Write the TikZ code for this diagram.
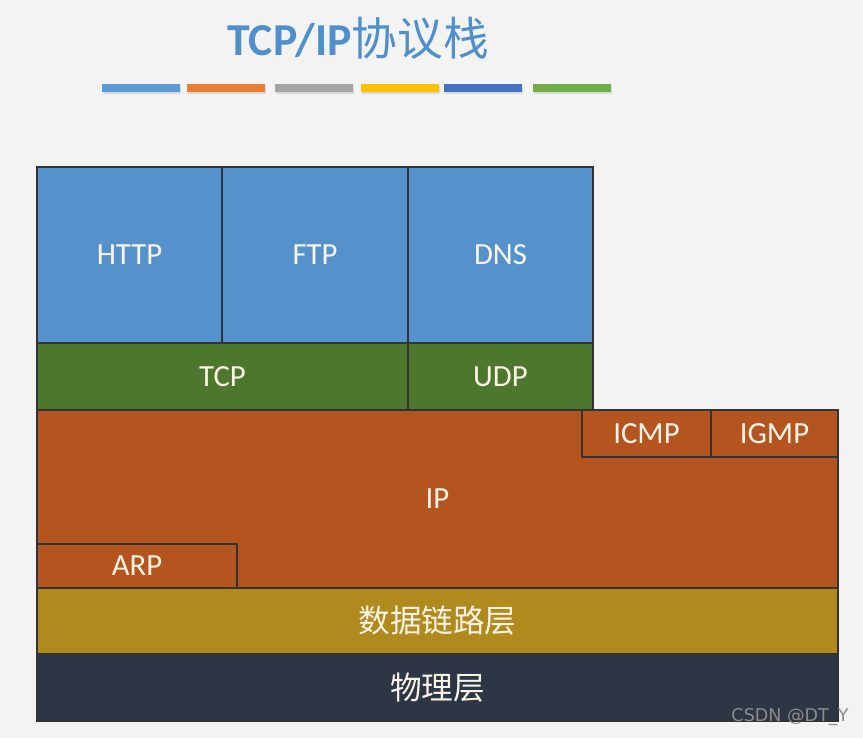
\documentclass[tikz,border=0pt]{standalone}
\usepackage{fontspec}
\setmainfont{Carlito}
\newfontfamily\cjk{Noto Sans CJK SC}
\newfontfamily\wmfont{DejaVu Sans}
\definecolor{bgcol}{HTML}{F3F3F3}
\definecolor{titleblue}{HTML}{4F8FCB}
\definecolor{appblue}{HTML}{5592CC}
\definecolor{tpgreen}{HTML}{4E772E}
\definecolor{iporange}{HTML}{B4541F}
\definecolor{linkgold}{HTML}{B08A1D}
\definecolor{phydark}{HTML}{2C3644}
\definecolor{barblue}{HTML}{5B9BD5}
\definecolor{barorange}{HTML}{ED7D31}
\definecolor{bargray}{HTML}{A5A5A5}
\definecolor{baryellow}{HTML}{FFC000}
\definecolor{bardarkblue}{HTML}{4472C4}
\definecolor{bargreen}{HTML}{70AD47}
\definecolor{textcream}{HTML}{FBF3E6}
\tikzset{
  layer/.style={draw=black!80, line width=0.6pt},
  lbl/.style={text=textcream, font=\fontsize{17.5}{20}\selectfont},
  cnlbl/.style={text=textcream, font=\cjk\fontsize{18}{22}\selectfont},
}
\begin{document}
\begin{tikzpicture}[x=0.02cm, y=-0.02cm]
\fill[bgcol] (0,0) rectangle (863,738);
\useasboundingbox (0,0) rectangle (863,738);
% title and colour bars
\node[text=titleblue, font=\fontsize{26}{30}\selectfont] (title) at (358,38) {\textbf{TCP/IP}\cjk 协议栈};
\foreach \x/\c in {102/barblue, 187/barorange, 275/bargray, 361/baryellow, 444/bardarkblue, 533/bargreen}
  {\fill[black!15] (\x+1,86) rectangle ++(78,8);
   \fill[\c] (\x,84) rectangle ++(78,8);}
% application layer
\draw[layer, fill=appblue] (37,167) rectangle (222,343) node[midway, lbl] (http) {HTTP};
\draw[layer, fill=appblue] (222,167) rectangle (408,343) node[midway, lbl] (ftp) {FTP};
\draw[layer, fill=appblue] (408,167) rectangle (593,343) node[midway, lbl] (dns) {DNS};
% transport layer
\draw[layer, fill=tpgreen] (37,343) rectangle (408,410) node[midway, lbl] (tcp) {TCP};
\draw[layer, fill=tpgreen] (408,343) rectangle (593,410) node[midway, lbl] (udp) {UDP};
% network layer
\draw[layer, fill=iporange] (37,410) rectangle (838,588) node[midway, lbl] (ip) {IP};
\draw[layer, fill=iporange] (582,410) rectangle (711,457) node[midway, lbl] (icmp) {ICMP};
\draw[layer, fill=iporange] (711,410) rectangle (838,457) node[midway, lbl] (igmp) {IGMP};
\draw[layer, fill=iporange] (37,544) rectangle (237,588) node[midway, lbl] (arp) {ARP};
% link and physical layer
\draw[layer, fill=linkgold] (37,588) rectangle (838,654) node[midway, cnlbl] (link) {数据链路层};
\draw[layer, fill=phydark] (37,654) rectangle (838,721) node[midway, cnlbl] (phy) {物理层};
% watermark
\node[text=black!45, font=\wmfont\fontsize{10}{12}\selectfont] (mark) at (790,717) {CSDN @DT\_Y};
\end{tikzpicture}
\end{document}
